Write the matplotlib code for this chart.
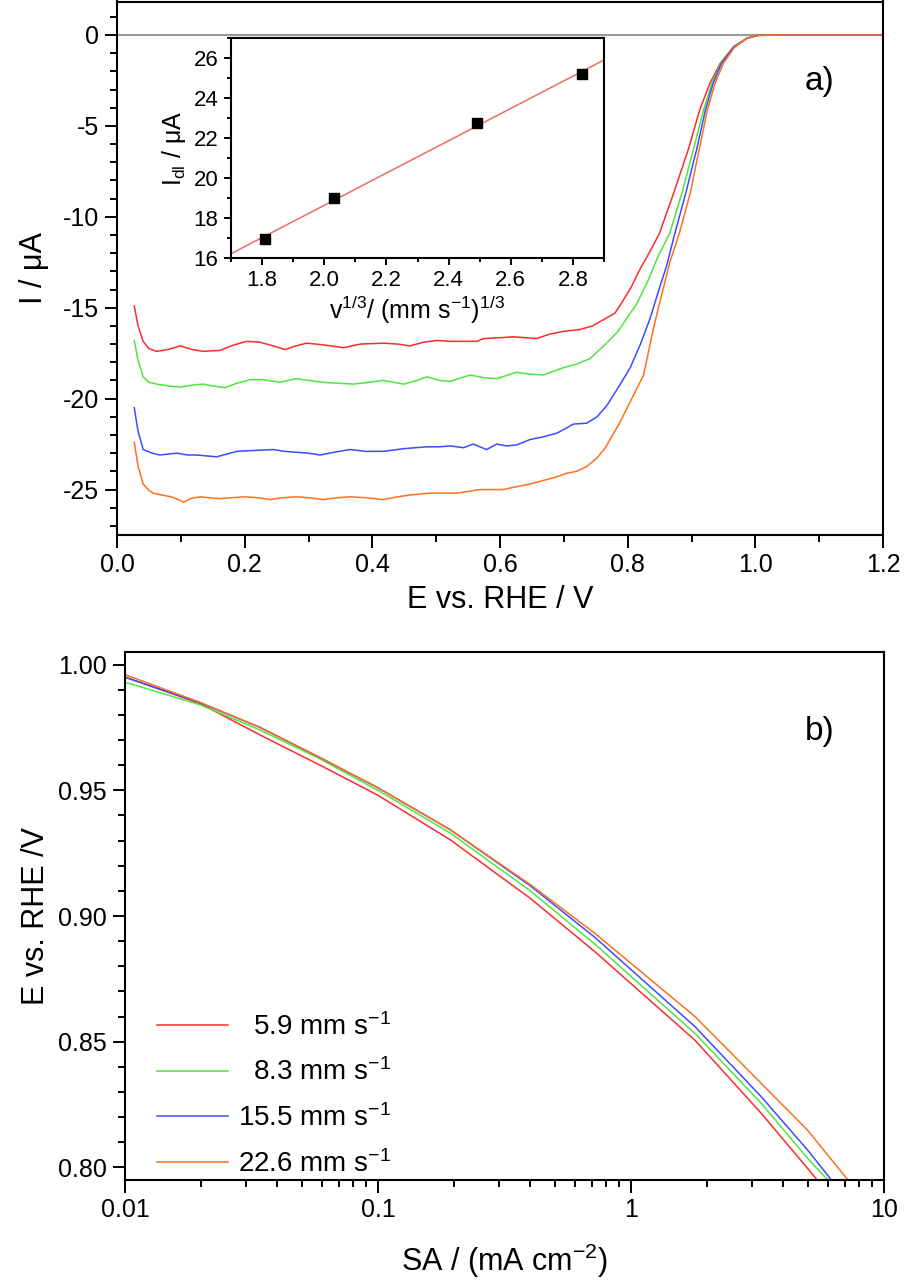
import numpy as np
import matplotlib
matplotlib.use("Agg")
import matplotlib.pyplot as plt
from matplotlib.ticker import MultipleLocator, FixedLocator, FuncFormatter, LogLocator, NullFormatter

plt.rcParams['font.family'] = ['Liberation Sans', 'DejaVu Sans']
plt.rcParams['mathtext.fontset'] = 'custom'
plt.rcParams['mathtext.rm'] = 'Liberation Sans'
plt.rcParams['mathtext.it'] = 'Liberation Sans:italic'
plt.rcParams['axes.unicode_minus'] = False

# ---------------- data: panel a) ----------------
E_red = [0.027, 0.033, 0.041, 0.050, 0.062, 0.080, 0.099, 0.118, 0.135, 0.161, 0.183, 0.203, 0.224, 0.245,
         0.263, 0.280, 0.297, 0.325, 0.355, 0.381, 0.417, 0.440, 0.459, 0.480, 0.501, 0.522, 0.545, 0.564,
         0.574, 0.600, 0.621, 0.640, 0.657, 0.678, 0.700, 0.725, 0.745, 0.762, 0.780, 0.793, 0.805, 0.819,
         0.835, 0.850, 0.872, 0.895, 0.913, 0.929, 0.945, 0.966, 0.987, 1.005, 1.05, 1.2]
I_red = [-14.9, -16.0, -16.85, -17.25, -17.4, -17.3, -17.1, -17.3, -17.4, -17.35, -17.05, -16.85, -16.9, -17.1,
         -17.3, -17.1, -16.95, -17.05, -17.2, -17.0, -16.95, -17.0, -17.1, -16.9, -16.8, -16.85, -16.85, -16.85,
         -16.7, -16.65, -16.6, -16.65, -16.7, -16.45, -16.3, -16.2, -16.0, -15.66, -15.3, -14.6, -13.9, -12.9,
         -11.9, -10.9, -8.7, -6.3, -4.1, -2.65, -1.56, -0.64, -0.18, -0.02, 0.0, 0.0]

E_green = [0.027, 0.033, 0.041, 0.050, 0.062, 0.080, 0.099, 0.120, 0.135, 0.150, 0.169, 0.188, 0.208, 0.229,
           0.255, 0.281, 0.300, 0.323, 0.345, 0.370, 0.395, 0.417, 0.449, 0.470, 0.485, 0.505, 0.522, 0.553,
           0.575, 0.595, 0.626, 0.645, 0.668, 0.699, 0.720, 0.741, 0.767, 0.785, 0.804, 0.814, 0.832, 0.846,
           0.866, 0.885, 0.903, 0.919, 0.932, 0.946, 0.966, 0.987, 1.005, 1.05, 1.2]
I_green = [-16.8, -17.9, -18.8, -19.1, -19.2, -19.3, -19.36, -19.25, -19.2, -19.3, -19.4, -19.15, -18.96, -18.96,
           -19.1, -18.9, -19.0, -19.1, -19.15, -19.2, -19.1, -19.0, -19.2, -19.0, -18.8, -19.0, -19.05, -18.7,
           -18.85, -18.9, -18.55, -18.65, -18.7, -18.3, -18.1, -17.8, -16.95, -16.3, -15.3, -14.8, -13.5, -12.3,
           -10.9, -8.7, -6.3, -4.1, -2.65, -1.56, -0.66, -0.18, -0.02, 0.0, 0.0]

E_blue = [0.027, 0.033, 0.041, 0.055, 0.067, 0.080, 0.094, 0.110, 0.125, 0.140, 0.156, 0.172, 0.188, 0.215,
          0.245, 0.262, 0.281, 0.300, 0.318, 0.340, 0.365, 0.390, 0.417, 0.450, 0.485, 0.505, 0.522, 0.543,
          0.558, 0.579, 0.595, 0.610, 0.626, 0.647, 0.668, 0.689, 0.705, 0.715, 0.736, 0.752, 0.767, 0.785,
          0.804, 0.820, 0.835, 0.850, 0.861, 0.874, 0.891, 0.908, 0.922, 0.934, 0.947, 0.966, 0.987, 1.005,
          1.05, 1.2]
I_blue = [-20.5, -21.8, -22.8, -23.0, -23.1, -23.05, -23.0, -23.1, -23.1, -23.15, -23.2, -23.05, -22.9, -22.85,
          -22.8, -22.9, -22.95, -23.0, -23.1, -22.95, -22.8, -22.9, -22.9, -22.75, -22.65, -22.65, -22.6, -22.7,
          -22.5, -22.8, -22.5, -22.6, -22.55, -22.25, -22.1, -21.9, -21.6, -21.4, -21.35, -21.0, -20.4, -19.4,
          -18.3, -17.0, -15.6, -13.9, -12.7, -10.9, -8.7, -6.3, -4.1, -2.65, -1.56, -0.68, -0.18, -0.02,
          0.0, 0.0]

E_orange = [0.027, 0.033, 0.041, 0.050, 0.057, 0.070, 0.085, 0.099, 0.104, 0.115, 0.130, 0.145, 0.161, 0.180,
            0.198, 0.220, 0.240, 0.260, 0.281, 0.300, 0.323, 0.345, 0.365, 0.390, 0.417, 0.440, 0.459, 0.490,
            0.532, 0.550, 0.569, 0.605, 0.625, 0.647, 0.668, 0.689, 0.705, 0.720, 0.735, 0.751, 0.765, 0.788,
            0.805, 0.825, 0.840, 0.851, 0.866, 0.881, 0.898, 0.912, 0.925, 0.937, 0.950, 0.967, 0.987, 1.005,
            1.05, 1.2]
I_orange = [-22.4, -23.7, -24.7, -25.05, -25.2, -25.3, -25.4, -25.6, -25.7, -25.5, -25.4, -25.45, -25.5, -25.45,
            -25.4, -25.45, -25.55, -25.45, -25.4, -25.45, -25.55, -25.45, -25.4, -25.45, -25.55, -25.4, -25.3, -25.2,
            -25.2, -25.1, -25.0, -25.0, -24.85, -24.7, -24.5, -24.3, -24.1, -24.0, -23.75, -23.3, -22.7, -21.3,
            -20.1, -18.7, -16.2, -14.6, -12.5, -10.9, -8.7, -6.3, -4.1, -2.65, -1.56, -0.7, -0.18, -0.02,
            0.0, 0.0]

# inset data
v13 = [1.81, 2.03, 2.49, 2.83]
I_dl = [16.95, 19.0, 22.75, 25.2]

# ---------------- data: panel b) ----------------
SA_red = [0.010, 0.0198, 0.0342, 0.059, 0.10, 0.193, 0.40, 0.72, 1.79, 3.28, 5.0, 5.45]
E_b_red = [0.995, 0.9845, 0.972, 0.960, 0.948, 0.9303, 0.907, 0.8858, 0.8506, 0.8214, 0.7995, 0.795]
SA_green = [0.010, 0.0198, 0.0342, 0.059, 0.10, 0.193, 0.40, 0.72, 1.79, 3.28, 5.0, 6.0]
E_b_green = [0.993, 0.9840, 0.974, 0.9625, 0.950, 0.9330, 0.910, 0.8888, 0.8533, 0.8254, 0.8035, 0.795]
SA_blue = [0.010, 0.0198, 0.0342, 0.059, 0.10, 0.193, 0.40, 0.72, 1.79, 3.28, 5.0, 6.2]
E_b_blue = [0.995, 0.9848, 0.975, 0.9630, 0.951, 0.9343, 0.912, 0.8915, 0.8560, 0.8280, 0.8068, 0.795]
SA_orange = [0.010, 0.0198, 0.0342, 0.059, 0.10, 0.193, 0.40, 0.72, 1.79, 3.28, 5.0, 7.2]
E_b_orange = [0.996, 0.9850, 0.975, 0.9630, 0.951, 0.9343, 0.9125, 0.8931, 0.8600, 0.8333, 0.8147, 0.795]

labels = ["  5.9 mm s$^{\\mathrm{-1}}$", "  8.3 mm s$^{\\mathrm{-1}}$",
          "15.5 mm s$^{\\mathrm{-1}}$", "22.6 mm s$^{\\mathrm{-1}}$"]
colors = ["#ff2a2a", "#4ee63c", "#3a4cff", "#ff6f1e"]

W, H = 905, 1280
fig = plt.figure(figsize=(W / 100, H / 100), dpi=100)

def fx(px):
    return px / W

def fy(py):
    return 1 - py / H

def style(ax, major_len=9, minor_len=5, lab=18):
    ax.tick_params(which='both', direction='out', top=False, right=False, width=1.4, labelsize=lab,
                   colors='black')
    ax.tick_params(which='major', length=major_len, pad=4)
    ax.tick_params(which='minor', length=minor_len)
    for s in ax.spines.values():
        s.set_linewidth(1.5)

# ---- panel a ----
ax1 = fig.add_axes([fx(117), fy(535), fx(883) - fx(117), fy(1.5) - fy(535)])
ax1.axhline(0, color='#9a9a9a', lw=1.5, zorder=1)
for E, I, c in zip([E_red, E_green, E_blue, E_orange], [I_red, I_green, I_blue, I_orange], colors):
    ax1.plot(E, I, color=c, lw=1.1, zorder=2)
ax1.set_xlim(0, 1.2)
ax1.set_ylim(-27.5, 1.84)
ax1.xaxis.set_major_locator(MultipleLocator(0.2))
ax1.xaxis.set_minor_locator(MultipleLocator(0.1))
ax1.yaxis.set_major_locator(FixedLocator([0, -5, -10, -15, -20, -25]))
ax1.yaxis.set_minor_locator(MultipleLocator(1))
ax1.xaxis.set_major_formatter(FuncFormatter(lambda v, p: f"{v:.1f}"))
ax1.yaxis.set_major_formatter(FuncFormatter(lambda v, p: f"{v:.0f}"))
style(ax1)
ax1.set_xlabel("E vs. RHE / V", fontsize=22, labelpad=6)
ax1.set_ylabel("I / μA", fontsize=22, labelpad=10)
fig.text(fx(805), fy(90), "a)", fontsize=24)

# inset
ax2 = fig.add_axes([fx(231), fy(258), fx(604) - fx(231), fy(38) - fy(258)])
coef = np.polyfit(v13, I_dl, 1)
xx = np.array([1.7, 2.9])
ax2.plot(xx, np.polyval(coef, xx), color='#f06a6a', lw=1.1, zorder=2)
ax2.plot(v13, I_dl, 's', color='black', ms=6.5, zorder=3)
ax2.set_xlim(1.7, 2.9)
ax2.set_ylim(16, 27)
ax2.xaxis.set_major_locator(MultipleLocator(0.2))
ax2.xaxis.set_minor_locator(MultipleLocator(0.1))
ax2.yaxis.set_major_locator(MultipleLocator(2))
ax2.yaxis.set_minor_locator(MultipleLocator(1))
ax2.xaxis.set_major_formatter(FuncFormatter(lambda v, p: f"{v:.1f}"))
ax2.yaxis.set_major_formatter(FuncFormatter(lambda v, p: f"{v:.0f}"))
style(ax2, major_len=5, minor_len=3, lab=16)
ax2.set_xlabel("v$^{\\mathrm{1/3}}$/ (mm s$^{\\mathrm{-1}}$)$^{\\mathrm{1/3}}$", fontsize=18, labelpad=2)
ax2.set_ylabel("I$_{\\mathrm{dl}}$ / μA", fontsize=18, labelpad=4)

# ---- panel b ----
ax3 = fig.add_axes([fx(125), fy(1180), fx(884) - fx(125), fy(652) - fy(1180)])
for S, E, c, lab in zip([SA_red, SA_green, SA_blue, SA_orange], [E_b_red, E_b_green, E_b_blue, E_b_orange],
                        colors, labels):
    ax3.plot(S, E, color=c, lw=1.1, label=lab)
ax3.set_xscale('log')
ax3.set_xlim(0.01, 10)
ax3.set_ylim(0.795, 1.005)
ax3.xaxis.set_major_locator(LogLocator(base=10))
ax3.xaxis.set_minor_locator(LogLocator(base=10, subs=np.arange(2, 10)))
ax3.xaxis.set_minor_formatter(NullFormatter())
ax3.xaxis.set_major_formatter(FuncFormatter(lambda v, p: f"{v:g}"))
ax3.yaxis.set_major_locator(MultipleLocator(0.05))
ax3.yaxis.set_minor_locator(MultipleLocator(0.01))
ax3.yaxis.set_major_formatter(FuncFormatter(lambda v, p: f"{v:.2f}"))
style(ax3)
ax3.set_xlabel("SA / (mA cm$^{\\mathrm{-2}}$)", fontsize=22, labelpad=14)
ax3.set_ylabel("E vs. RHE /V", fontsize=22, labelpad=5)
fig.text(fx(805), fy(740), "b)", fontsize=24)

leg = ax3.legend(loc='upper left', bbox_to_anchor=((157 - 125) / 759, (1180 - 1013) / 528),
                 frameon=False, fontsize=20, handlelength=2.55, handletextpad=0.35,
                 labelspacing=0.64, borderpad=0, borderaxespad=0)

fig.savefig("out.png", dpi=100)
